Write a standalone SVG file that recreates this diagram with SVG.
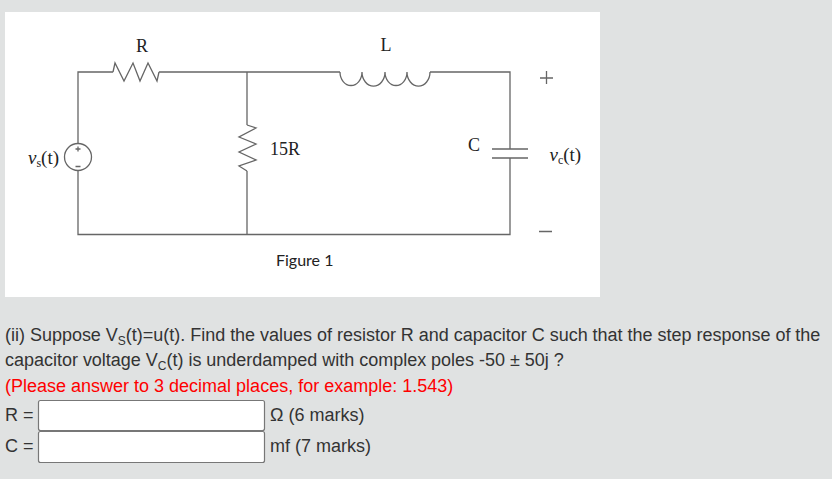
<svg xmlns="http://www.w3.org/2000/svg" width="832" height="479" viewBox="0 0 832 479">
<style>
.w{fill:none;stroke:#666;stroke-width:1.3}
.t{font-family:"Liberation Serif",serif;font-size:18px;fill:#222}
.v{font-size:19px}
.q{font-family:"Liberation Sans",Arial,sans-serif;font-size:18px;fill:#333}
.r{fill:#f00}
.b{fill:#fff;stroke:#777;stroke-width:1.2}
</style>
<rect width="832" height="479" fill="#e0e2e2"/>
<rect x="5" y="12" width="595" height="285" fill="#fff"/>
<g id="connectors">
<path class="w" d="M78 143V72H113M159 72H340M430 72H510V149M510 158V234.500H78V171M247 72V125M247 171V234.500"/>
</g>
<g id="node-R"><path class="w" d="M113 72L115 63L124 81L133 63L140 81L148 63L157 81L159 72"/><text class="t" x="142" y="52" text-anchor="middle">R</text></g>
<g id="node-15R"><path class="w" d="M247 125L256 128L239 137L256 144L239 152L256 160L239 166L247 171"/><text class="t" x="270" y="155">15R</text></g>
<g id="node-L"><path class="w" d="M340 72A11 13.500 0 0 0 362 72A11 13.500 0 0 0 385 72A11 13.500 0 0 0 407 72A11 13.500 0 0 0 430 72"/><text class="t" x="386" y="51" text-anchor="middle">L</text></g>
<g id="node-C"><path class="w" d="M492 149H528M492 158H528"/><text class="t" x="474" y="151" text-anchor="middle">C</text></g>
<g id="node-vs"><circle class="w" cx="78" cy="157" r="13.5"/><path class="w" d="M75.500 149H80.500M78 146.500V151.500M75.500 166.500H80.500"/>
<text class="t v" x="28" y="164"><tspan font-style="italic">v</tspan><tspan font-size="12" dy="3">s</tspan><tspan dy="-3">(t)</tspan></text></g>
<g id="node-vc"><text class="t v" x="549.500" y="161"><tspan font-style="italic">v</tspan><tspan font-size="12" dy="3">c</tspan><tspan dy="-3">(t)</tspan></text>
<path class="w" d="M540 78H553M546.500 71V84M539 231.500H552"/></g>
<text x="276" y="266" font-family="Lato,Liberation Sans,sans-serif" font-size="16" fill="#222">Figure 1</text>
<g>
<text class="q" x="5" y="341" letter-spacing="-0.015">(ii) Suppose V<tspan font-size="12" dy="4">S</tspan><tspan dy="-4">(t)=u(t). Find the values of resistor R and capacitor C such that the step response of the</tspan></text>
<text class="q" x="5" y="366" letter-spacing="-0.015">capacitor voltage V<tspan font-size="12" dy="4">C</tspan><tspan dy="-4">(t) is underdamped with complex poles -50 ± 50j ?</tspan></text>
<text class="q r" x="5" y="392">(Please answer to 3 decimal places, for example: 1.543)</text>
<text class="q" x="5" y="421">R =</text>
<text class="q" x="5" y="452">C =</text>
<text class="q" x="270" y="421">Ω (6 marks)</text>
<text class="q" x="270" y="452">mf (7 marks)</text>
</g>
<g id="input-R"><rect class="b" x="38.500" y="400.500" width="226" height="30" rx="2"/></g>
<g id="input-C"><rect class="b" x="38.500" y="431.500" width="226" height="31" rx="2"/></g>
</svg>
